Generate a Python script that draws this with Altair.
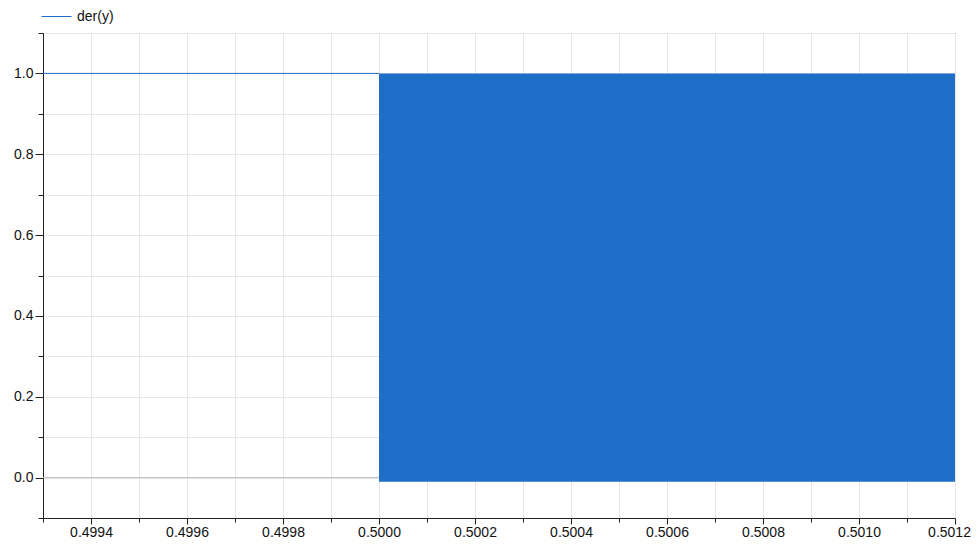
import altair as alt
import pandas as pd

# der(y): constant 1 before the event, then fast chattering between ~-0.01 and 1
line_t = [0.4993, 0.5000]
line_v = [1.0, 1.0]
band_t = [0.5000, 0.5012]
band_lo = [-0.01, -0.01]
band_hi = [1.0, 1.0]
series = "der(y)"

x_ticks = [round(0.4993 + i * 0.0001, 4) for i in range(20)]
y_ticks = [round(-0.1 + i * 0.1, 1) for i in range(13)]

COLOR = "#1e6ec8"
FONT = "Liberation Sans"
FS = 14

line_df = pd.DataFrame({"t": line_t, "v": line_v, "s": [series] * len(line_t)})
band_df = pd.DataFrame({"t": band_t, "lo": band_lo, "hi": band_hi, "s": [series] * len(band_t)})
zero_df = pd.DataFrame({"v": [0.0]})

xscale = alt.Scale(domain=[0.4993, 0.5012], nice=False, zero=False)
yscale = alt.Scale(domain=[-0.1, 1.1], nice=False, zero=False)

x_major = "round(datum.value*10000) % 2 == 0"
y_major = "round(datum.value*10) % 2 == 0"

xaxis = alt.Axis(
    title=None, values=x_ticks,
    labelExpr=f"{x_major} ? format(datum.value, '.4f') : ''",
    grid=True, gridColor="#e6e6e6", tickColor="#222", domainColor="#222",
    tickSize={"condition": {"test": x_major, "value": 6}, "value": 4},
    labelOffset={"condition": {"test": "datum.value > 0.50115", "value": -6}, "value": 0},
    labelFont=FONT, labelFontSize=FS, labelColor="#111",
    labelPadding=1, labelFlush=False, labelOverlap=False,
)
yaxis = alt.Axis(
    title=None, values=y_ticks,
    labelExpr=f"{y_major} ? format(datum.value, '.1f') : ''",
    grid=True, gridColor="#e6e6e6", tickColor="#222", domainColor="#222",
    tickSize={"condition": {"test": y_major, "value": 8}, "value": 5},
    labelFont=FONT, labelFontSize=FS, labelColor="#111",
    labelPadding=2, labelOverlap=False,
)

zero = alt.Chart(zero_df).mark_rule(color="#c0c0c0", strokeWidth=1).encode(
    y=alt.Y("v:Q", scale=yscale, axis=yaxis)
)

band = alt.Chart(band_df).mark_area(color=COLOR, opacity=1, clip=True).encode(
    x=alt.X("t:Q", scale=xscale, axis=xaxis),
    y=alt.Y("lo:Q", scale=yscale, axis=yaxis),
    y2="hi:Q",
)

line = alt.Chart(line_df).mark_line(strokeWidth=1, clip=True).encode(
    x=alt.X("t:Q", scale=xscale, axis=xaxis),
    y=alt.Y("v:Q", scale=yscale, axis=yaxis),
    color=alt.Color(
        "s:N",
        scale=alt.Scale(domain=[series], range=[COLOR]),
        legend=alt.Legend(
            title=None, orient="none", legendX=-2, legendY=-32,
            symbolType="stroke", symbolSize=900, symbolStrokeWidth=1,
            labelFont=FONT, labelFontSize=FS, labelColor="#111",
            labelOffset=5, padding=0,
        ),
    ),
)

chart = alt.layer(zero, band, line).properties(
    width=912, height=485,
    autosize=alt.AutoSizeParams(type="none"),
    padding={"left": 35, "top": 25, "right": 17, "bottom": 20},
).configure_view(stroke="#222", strokeWidth=1)

chart.save("out.html", embed_options={"renderer": "svg", "actions": False})
